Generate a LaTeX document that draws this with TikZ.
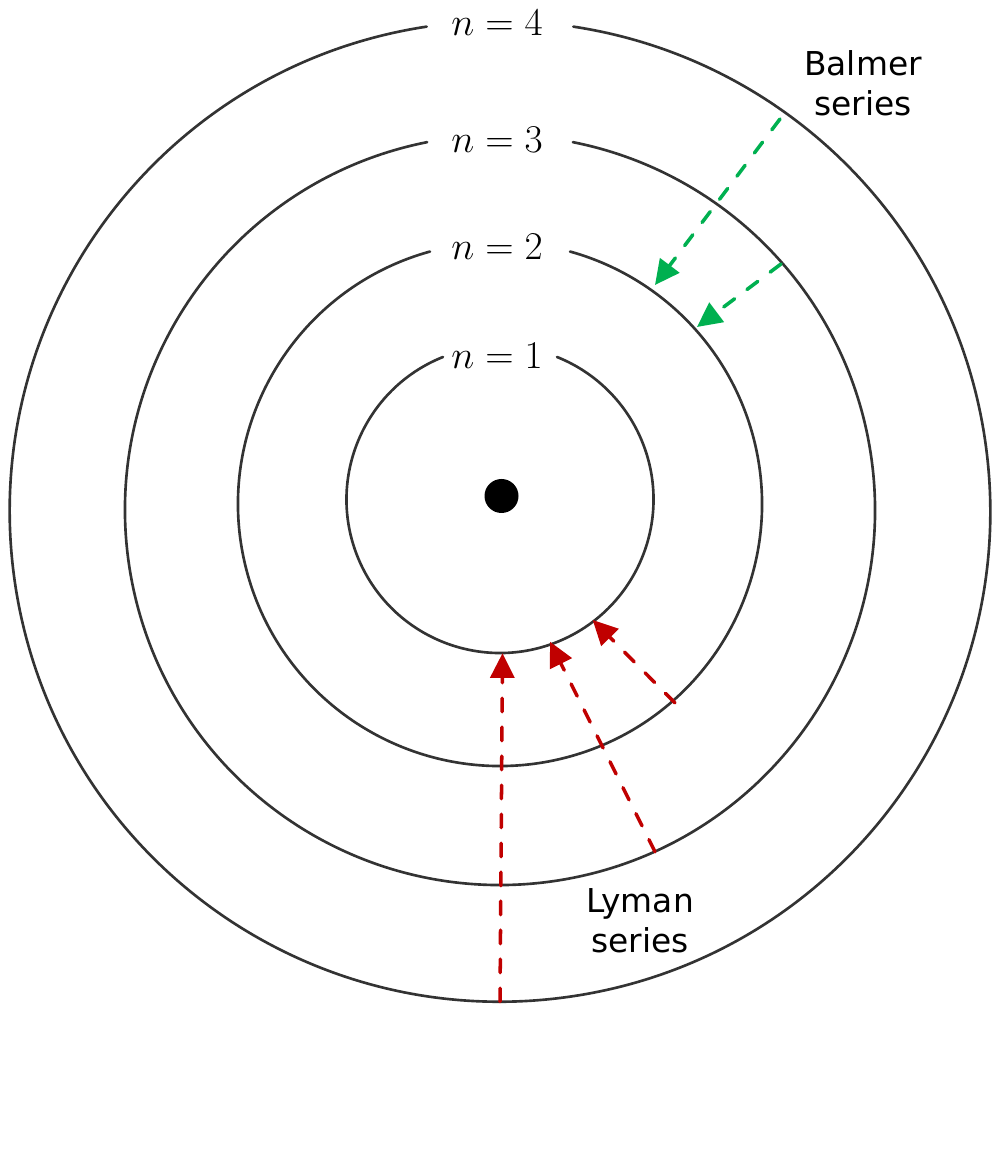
\documentclass[tikz,border=0pt]{standalone}
\usepackage{fontspec}
\usepackage{xcolor}
\usepackage{tikz}
\usetikzlibrary{arrows.meta, calc}
\newfontfamily\labelfont{DejaVu Sans}
\definecolor{orbitgray}{HTML}{333333}
\definecolor{balmergreen}{HTML}{00B050}
\definecolor{lymanred}{HTML}{C00000}
\newcommand{\Orbit}[5]{
	\def\ocenter{#1}
	\def\oradius{#2}
	\def\ogap{#3}
	\def\obase{#4}
	\def\olevel{#5}
	\draw[orbitgray, line width=1.5pt] ($ (\ocenter)+(90+\ogap:\oradius) $) arc (90+\ogap:450-\ogap:\oradius);
	\node[anchor=base, font=\huge, scale=1.08] (n\olevel) at (497,\obase) {$ n=\olevel $};
}
\tikzset{
	series/.style={font=\fontsize{18.7}{22.7}\selectfont\labelfont, align=center},
	jump/.style={line width=2pt, dash pattern=on 7.7pt off 8.8pt, -{Triangle[length=14pt, width=13.6pt]}},
	balmer/.style={jump, balmergreen},
	lyman/.style={jump, lymanred}
}
\def\unit{0.2mm}

\begin{document}
\begin{tikzpicture}[x=\unit, y=\unit, line cap = round]
	\useasboundingbox (0,0) rectangle (1003,1160);

	\coordinate (C1) at (500,660.5);
	\coordinate (C2) at (500,656);
	\coordinate (C3) at (500,650);
	\coordinate (C4) at (500,648.6);

	\Orbit{C1}{153.5}{21.8}{791.7}{1}
	\Orbit{C2}{262}{15.5}{900.7}{2}
	\Orbit{C3}{375}{11.2}{1007.3}{3}
	\Orbit{C4}{490.3}{8.6}{1124}{4}

	% nucleus
	\fill (501.5,664) circle (17);

	\node[series] (balmer) at (863,1077) {Balmer\\series};
	\node[series] (lyman) at (640,239.5) {Lyman\\series};

	\coordinate (b-from4) at (780,1041);
	\coordinate (b-to4) at (655,875);
	\coordinate (b-from3) at (781,896);
	\coordinate (b-to3) at (697,833);
	\draw[balmer] (b-from4) -- (b-to4);
	\draw[balmer] (b-from3) -- (b-to3);

	\coordinate (l-from4) at (500,158.3);
	\coordinate (l-to4) at (502.5,506.7);
	\coordinate (l-from3) at (655,308.3);
	\coordinate (l-to3) at (550,518.3);
	\coordinate (l-from2) at (675,457);
	\coordinate (l-to2) at (592.7,540);
	\draw[lyman] (l-from4) -- (l-to4);
	\draw[lyman] (l-from3) -- (l-to3);
	\draw[lyman] (l-from2) -- (l-to2);

\end{tikzpicture}
\end{document}
